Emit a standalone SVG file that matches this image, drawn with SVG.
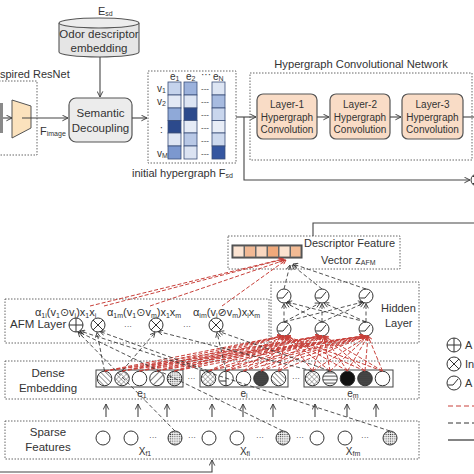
<svg xmlns="http://www.w3.org/2000/svg" width="474" height="474" viewBox="0 0 474 474">
<style>
text{font-family:"Liberation Sans","DejaVu Sans",sans-serif;fill:#333;}
.t11{font-size:11px;}
.t10{font-size:10px;}
.sub{font-size:7px;}
.dot{fill:none;stroke:#555;stroke-width:0.9;stroke-dasharray:1.5 1.5;}
.box{stroke:#555;stroke-width:1.2;}
.ln{fill:none;stroke:#444;stroke-width:1.1;}
.arr{marker-end:url(#ah);}
.red line{stroke:#c8403a;stroke-width:1;stroke-dasharray:4 2;marker-end:url(#ahr);}
.blk line{stroke:#333;stroke-width:0.85;stroke-dasharray:4 2.5;marker-end:url(#ahb);}
.cir{fill:#fff;stroke:#333;stroke-width:1;}
.sym{stroke:#333;stroke-width:1;fill:none;}
</style>
<defs>
<marker id="ah" viewBox="0 0 10 10" refX="9" refY="5" markerWidth="7" markerHeight="7" markerUnits="userSpaceOnUse" orient="auto"><path d="M1,1 L9,5 L1,9" fill="none" stroke="#444" stroke-width="1.4"/></marker>
<marker id="ahb" viewBox="0 0 10 10" refX="9" refY="5" markerWidth="6" markerHeight="6" markerUnits="userSpaceOnUse" orient="auto"><path d="M1,1 L9,5 L1,9" fill="none" stroke="#333" stroke-width="1.4"/></marker>
<marker id="ahr" viewBox="0 0 10 10" refX="9" refY="5" markerWidth="5.5" markerHeight="5.5" markerUnits="userSpaceOnUse" orient="auto"><path d="M1,1 L9,5 L1,9" fill="none" stroke="#c8403a" stroke-width="1.8"/></marker>
<pattern id="pdiag" width="3.5" height="3.5" patternUnits="userSpaceOnUse" patternTransform="rotate(-45)"><rect width="3.5" height="3.5" fill="#fff"/><line x1="0" y1="0" x2="0" y2="3.5" stroke="#333" stroke-width="1"/></pattern>
<pattern id="pdiag2" width="5" height="5" patternUnits="userSpaceOnUse" patternTransform="rotate(45)"><rect width="5" height="5" fill="#fff"/><line x1="0" y1="0" x2="0" y2="5" stroke="#333" stroke-width="1.2"/></pattern>
<pattern id="pcross" width="3.5" height="3.5" patternUnits="userSpaceOnUse" patternTransform="rotate(45)"><rect width="3.5" height="3.5" fill="#fff"/><path d="M0,0 V3.5 M0,0 H3.5" stroke="#444" stroke-width="0.7"/></pattern>
<pattern id="pdots" width="2.2" height="2.2" patternUnits="userSpaceOnUse"><rect width="2.2" height="2.2" fill="#eee"/><circle cx="1.1" cy="1.1" r="0.6" fill="#333"/></pattern>
<pattern id="pdark" width="2" height="2" patternUnits="userSpaceOnUse"><rect width="2" height="2" fill="#333"/><circle cx="1" cy="1" r="0.45" fill="#bbb"/></pattern>
<pattern id="phl" width="4" height="3.5" patternUnits="userSpaceOnUse"><rect width="4" height="3.5" fill="#fff"/><line x1="0" y1="1.75" x2="4" y2="1.75" stroke="#333" stroke-width="0.9"/></pattern>
</defs>
<rect width="474" height="474" fill="#fff"/>

<!-- ================= TOP ================= -->
<g id="resnet">
<rect x="0" y="103" width="3" height="30" fill="#8a8a8a"/>
<rect x="-10" y="81" width="47" height="74" class="dot"/>
<text x="0" y="78" class="t11">spired ResNet</text>
<polygon points="12,100 31,106 31,128 12,138" fill="#fbe2bd" stroke="#555" stroke-width="1"/>
<text x="40" y="135" class="t11">F<tspan class="sub" dy="1">image</tspan></text>
</g>
<g id="odor">
<text x="98" y="15" class="t11">E<tspan class="sub" dy="1">sd</tspan></text>
<path d="M59,23 V52 A40,5 0 0 0 139,52 V23" fill="#e5e5e5" stroke="#555" stroke-width="1.1"/>
<ellipse cx="99" cy="23" rx="40" ry="5" fill="#ededed" stroke="#555" stroke-width="1.1"/>
<text x="99" y="38" font-size="11.5" text-anchor="middle">Odor descriptor</text>
<text x="99" y="52" font-size="11.5" text-anchor="middle">embedding</text>
</g>
<g id="semantic">
<rect x="69" y="98" width="63" height="44" rx="7" fill="#ececec" class="box"/>
<text x="100.5" y="117" font-size="11.5" text-anchor="middle">Semantic</text>
<text x="100.5" y="132" font-size="11.5" text-anchor="middle">Decoupling</text>
</g>
<g id="hypergraph">
<rect x="148" y="71" width="88" height="92" class="dot"/>
<text x="170" y="80" class="t10">e<tspan class="sub" dy="1">1</tspan></text>
<text x="186" y="80" class="t10">e<tspan class="sub" dy="1">2</tspan></text>
<text x="201" y="78" class="t10">···</text>
<text x="213" y="80" class="t10">e<tspan class="sub" dy="1">N</tspan></text>
<text x="157" y="92" class="t10">v<tspan class="sub" dy="1">1</tspan></text>
<text x="157" y="105" class="t10">v<tspan class="sub" dy="1">2</tspan></text>
<text x="160" y="133" class="t10">:</text>
<text x="157" y="157" class="t10">v<tspan class="sub" dy="1">M</tspan></text>
<g stroke="#3a4e78" stroke-width="0.8">
<rect x="168" y="82" width="13" height="13" fill="#c5d3ec"/>
<rect x="168" y="95" width="13" height="13" fill="#e3e9f5"/>
<rect x="168" y="108" width="13" height="12.5" fill="#8fa9d8"/>
<rect x="168" y="120.5" width="13" height="12.5" fill="#2c4a8c"/>
<rect x="168" y="133" width="13" height="13" fill="#dfe6f3"/>
<rect x="168" y="146" width="13" height="13" fill="#7c98cf"/>
<rect x="184" y="82" width="13" height="13" fill="#9cb2dc"/>
<rect x="184" y="95" width="13" height="13" fill="#dde5f3"/>
<rect x="184" y="108" width="13" height="12.5" fill="#2c4a8c"/>
<rect x="184" y="120.5" width="13" height="12.5" fill="#e5ebf6"/>
<rect x="184" y="133" width="13" height="13" fill="#b8c8e6"/>
<rect x="184" y="146" width="13" height="13" fill="#dbe3f2"/>
<rect x="212" y="82" width="13" height="13" fill="#dde5f3"/>
<rect x="212" y="95" width="13" height="13" fill="#a7bbe0"/>
<rect x="212" y="108" width="13" height="12.5" fill="#c9d6ed"/>
<rect x="212" y="120.5" width="13" height="12.5" fill="#e8edf7"/>
<rect x="212" y="133" width="13" height="13" fill="#cdd9ee"/>
<rect x="212" y="146" width="13" height="13" fill="#3556a0"/>
</g>
<g font-size="8">
<text x="201" y="91">---</text>
<text x="201" y="104">---</text>
<text x="201" y="117">---</text>
<text x="201" y="130">---</text>
<text x="201" y="143">---</text>
<text x="201" y="156">---</text>
</g>
<text x="132" y="177" class="t11">initial hypergraph F<tspan class="sub" dy="1">sd</tspan></text>
</g>
<g id="hgcn">
<text x="361" y="68" font-size="11.2" text-anchor="middle">Hypergraph Convolutional Network</text>
<rect x="250" y="73" width="222" height="87" class="dot"/>
</g>
<g id="layer1">
<rect x="257" y="94" width="60" height="45" rx="6" fill="#f9dcc6" class="box"/>
<text x="287" y="108" class="t10" text-anchor="middle">Layer-1</text>
<text x="287" y="121" class="t10" text-anchor="middle">Hypergraph</text>
<text x="287" y="133" class="t10" text-anchor="middle">Convolution</text>
</g>
<g id="layer2">
<rect x="330" y="94" width="60" height="45" rx="6" fill="#f9dcc6" class="box"/>
<text x="360" y="108" class="t10" text-anchor="middle">Layer-2</text>
<text x="360" y="121" class="t10" text-anchor="middle">Hypergraph</text>
<text x="360" y="133" class="t10" text-anchor="middle">Convolution</text>
</g>
<g id="layer3">
<rect x="402" y="94" width="61" height="45" rx="6" fill="#f9dcc6" class="box"/>
<text x="432.5" y="108" class="t10" text-anchor="middle">Layer-3</text>
<text x="432.5" y="121" class="t10" text-anchor="middle">Hypergraph</text>
<text x="432.5" y="133" class="t10" text-anchor="middle">Convolution</text>
</g>
<g id="fuse-top">
<circle cx="477" cy="180" r="6" class="cir"/>
<path d="M472.8,175.8 L481.2,184.2 M472.8,184.2 L481.2,175.8" class="sym"/>
</g>

<!-- ================= BOTTOM ================= -->
<g id="descriptor-vector">
<rect x="228" y="236" width="172" height="33" class="dot"/>
<rect x="232" y="245" width="70" height="13" fill="#666" stroke="#444"/>
<rect x="233.5" y="246.5" width="10" height="10" fill="#fce4d2"/>
<rect x="245" y="246.5" width="10" height="10" fill="#f2b994"/>
<rect x="256.5" y="246.5" width="10" height="10" fill="#fad7bf"/>
<rect x="268" y="246.5" width="10" height="10" fill="#f0a97b"/>
<rect x="279.5" y="246.5" width="10" height="10" fill="#fbe3d0"/>
<rect x="291" y="246.5" width="9.5" height="10" fill="#f3bb94"/>
<text x="304" y="247" class="t11">Descriptor Feature</text>
<text x="321" y="264" class="t11">Vector z<tspan class="sub" dy="1">AFM</tspan></text>
</g>
<g id="hidden-layer">
<rect x="271" y="282" width="148" height="61" class="dot"/>
<text x="381" y="312" class="t11">Hidden</text>
<text x="385" y="327" class="t11">Layer</text>
<g id="neurons">
<circle cx="284" cy="296" r="7" class="cir"/><path d="M278,298 H283 L288,292" class="sym"/>
<circle cx="322" cy="296" r="7" class="cir"/><path d="M316,298 H321 L326,292" class="sym"/>
<circle cx="366" cy="296" r="7" class="cir"/><path d="M360,298 H365 L370,292" class="sym"/>
<circle cx="284" cy="329" r="7" class="cir"/><path d="M278,331 H283 L288,325" class="sym"/>
<circle cx="322" cy="329" r="7" class="cir"/><path d="M316,331 H321 L326,325" class="sym"/>
<circle cx="366" cy="329" r="7" class="cir"/><path d="M360,331 H365 L370,325" class="sym"/>
</g>
</g>
<g id="afm-layer">
<rect x="5" y="299" width="264" height="44" class="dot"/>
<text x="10" y="328" font-size="11.5">AFM Layer</text>
<text x="35" y="316" font-size="11">α<tspan class="sub" dy="1.5">1i</tspan><tspan dy="-1.5">(v</tspan><tspan class="sub" dy="1.5">1</tspan><tspan dy="-1.5">⊙v</tspan><tspan class="sub" dy="1.5">i</tspan><tspan dy="-1.5">)x</tspan><tspan class="sub" dy="1.5">1</tspan><tspan dy="-1.5">x</tspan><tspan class="sub" dy="1.5">i</tspan></text>
<text x="107" y="316" font-size="11">α<tspan class="sub" dy="1.5">1m</tspan><tspan dy="-1.5">(v</tspan><tspan class="sub" dy="1.5">1</tspan><tspan dy="-1.5">⊙v</tspan><tspan class="sub" dy="1.5">m</tspan><tspan dy="-1.5">)x</tspan><tspan class="sub" dy="1.5">1</tspan><tspan dy="-1.5">x</tspan><tspan class="sub" dy="1.5">m</tspan></text>
<text x="193" y="316" font-size="11">α<tspan class="sub" dy="1.5">im</tspan><tspan dy="-1.5">(v</tspan><tspan class="sub" dy="1.5">i</tspan><tspan dy="-1.5">⊘v</tspan><tspan class="sub" dy="1.5">m</tspan><tspan dy="-1.5">)x</tspan><tspan class="sub" dy="1.5">i</tspan><tspan dy="-1.5">x</tspan><tspan class="sub" dy="1.5">m</tspan></text>
<circle cx="76" cy="325" r="7" class="cir"/><path d="M69,325 H83 M76,318 V332" class="sym"/>
<circle cx="98" cy="325" r="7" class="cir"/><path d="M93,320 L103,330 M93,330 L103,320" class="sym"/>
<text x="128" y="329" text-anchor="middle" font-size="8">···</text>
<circle cx="156" cy="325" r="7" class="cir"/><path d="M151,320 L161,330 M151,330 L161,320" class="sym"/>
<text x="187" y="329" text-anchor="middle" font-size="8">···</text>
<circle cx="216" cy="325" r="7" class="cir"/><path d="M211,320 L221,330 M211,330 L221,320" class="sym"/>
</g>
<g id="dense-embedding">
<rect x="5" y="361" width="414" height="38" class="dot"/>
<text x="48" y="377" font-size="11.5" text-anchor="middle">Dense</text>
<text x="48" y="392" font-size="11.5" text-anchor="middle">Embedding</text>
<rect x="96" y="370" width="87" height="17" fill="none" stroke="#444"/>
<rect x="200" y="370" width="88" height="17" fill="none" stroke="#444"/>
<rect x="304" y="370" width="89" height="17" fill="none" stroke="#444"/>
<circle cx="104.5" cy="378.5" r="7.3" fill="url(#pdiag)" stroke="#333"/>
<circle cx="122" cy="378.5" r="7.3" fill="url(#pcross)" stroke="#333"/>
<circle cx="139.5" cy="378.5" r="7.3" class="cir"/>
<circle cx="157" cy="378.5" r="7.3" fill="url(#pdiag2)" stroke="#333"/>
<circle cx="174.5" cy="378.5" r="7.3" fill="url(#pdots)" stroke="#333"/>
<text x="191.5" y="381" font-size="8" text-anchor="middle">···</text>
<circle cx="208.5" cy="378.5" r="7.3" fill="url(#pcross)" stroke="#333"/>
<circle cx="226" cy="378.5" r="7.3" class="cir"/><path d="M226,371.2 V385.8 M220,381 H226" class="sym"/>
<circle cx="243.5" cy="378.5" r="7.3" class="cir"/>
<circle cx="261" cy="378.5" r="7.3" fill="url(#pdark)" stroke="#333"/>
<circle cx="278.5" cy="378.5" r="7.3" fill="url(#pdiag)" stroke="#333"/>
<text x="296" y="381" font-size="8" text-anchor="middle">···</text>
<circle cx="312.5" cy="378.5" r="7.3" fill="url(#pcross)" stroke="#333"/>
<circle cx="330" cy="378.5" r="7.3" fill="url(#phl)" stroke="#333"/>
<circle cx="347.5" cy="378.5" r="7.3" fill="#111" stroke="#333"/>
<circle cx="365" cy="378.5" r="7.3" fill="url(#pdark)" stroke="#333"/>
<circle cx="382.5" cy="378.5" r="7.3" class="cir"/>
<text x="142" y="397" class="t10" text-anchor="middle">e<tspan class="sub" dy="1">1</tspan></text>
<text x="244" y="397" class="t10" text-anchor="middle">e<tspan class="sub" dy="1">i</tspan></text>
<text x="353" y="397" class="t10" text-anchor="middle">e<tspan class="sub" dy="1">m</tspan></text>
</g>
<g id="sparse-features">
<rect x="5" y="421" width="414" height="38" class="dot"/>
<text x="48" y="436" font-size="11.5" text-anchor="middle">Sparse</text>
<text x="48" y="451" font-size="11.5" text-anchor="middle">Features</text>
<circle cx="103" cy="438" r="7" class="cir"/>
<circle cx="131" cy="438" r="7" class="cir"/>
<text x="153" y="440" font-size="8" text-anchor="middle">···</text>
<circle cx="175" cy="438" r="7" fill="url(#pdots)" stroke="#333"/>
<text x="192" y="440" font-size="8" text-anchor="middle">···</text>
<circle cx="209" cy="438" r="7" class="cir"/>
<circle cx="237" cy="438" r="7" class="cir"/>
<text x="260" y="440" font-size="8" text-anchor="middle">···</text>
<circle cx="283" cy="438" r="7" fill="url(#pdots)" stroke="#333"/>
<text x="300" y="440" font-size="8" text-anchor="middle">···</text>
<circle cx="317" cy="438" r="7" class="cir"/>
<circle cx="345" cy="438" r="7" class="cir"/>
<text x="365" y="440" font-size="8" text-anchor="middle">···</text>
<circle cx="390" cy="438" r="7" fill="url(#pdots)" stroke="#333"/>
<text x="145" y="455" class="t10" text-anchor="middle">X<tspan class="sub" dy="1">f1</tspan></text>
<text x="245" y="455" class="t10" text-anchor="middle">X<tspan class="sub" dy="1">fi</tspan></text>
<text x="353" y="455" class="t10" text-anchor="middle">X<tspan class="sub" dy="1">fm</tspan></text>
</g>
<g id="legend">
<circle cx="454" cy="345" r="7" class="cir"/><path d="M447,345 H461 M454,338 V352" class="sym"/>
<text x="465" y="349" class="t11">A</text>
<circle cx="454" cy="364" r="7" class="cir"/><path d="M449,359 L459,369 M449,369 L459,359" class="sym"/>
<text x="465" y="368" class="t11">In</text>
<circle cx="454" cy="383" r="7" class="cir"/><path d="M448,385 H453 L458,379" class="sym"/>
<text x="465" y="387" class="t11">A</text>
<line x1="448" y1="406" x2="474" y2="406" stroke="#c8403a" stroke-width="1" stroke-dasharray="5 3"/>
<line x1="448" y1="423" x2="474" y2="423" stroke="#333" stroke-width="1" stroke-dasharray="5 3"/>
<line x1="448" y1="440" x2="474" y2="440" stroke="#333" stroke-width="1.2"/>
</g>

<!-- ================= CONNECTORS ================= -->
<g id="connectors">
<g class="ln">
<path d="M3,118 H12" class="arr"/>
<path d="M22,118 H68" class="arr"/>
<path d="M100,57 V97" class="arr"/>
<path d="M132,118 H147" class="arr"/>
<path d="M236,117 H256" class="arr"/>
<path d="M317,117 H329" class="arr"/>
<path d="M390,117 H401" class="arr"/>
<path d="M463,117 H474"/>
<path d="M244,117 V180 H470" class="arr"/>
<path d="M313,236 V223 H474"/>
<path d="M0,472 H212 V460" class="arr"/>
<path d="M106,417 V404" class="arr"/>
<path d="M138,417 V404" class="arr"/>
<path d="M167,417 V404" class="arr"/>
<path d="M212,417 V404" class="arr"/>
<path d="M243,417 V404" class="arr"/>
<path d="M273,417 V404" class="arr"/>
<path d="M315,417 V404" class="arr"/>
<path d="M347,417 V404" class="arr"/>
<path d="M376,417 V404" class="arr"/>
</g>
<g class="red">
<line x1="104.5" y1="371" x2="282" y2="336"/><line x1="104.5" y1="371" x2="320" y2="336"/><line x1="104.5" y1="371" x2="364" y2="336"/>
<line x1="122" y1="371" x2="282" y2="336"/><line x1="122" y1="371" x2="320" y2="336"/><line x1="122" y1="371" x2="364" y2="336"/>
<line x1="139.5" y1="371" x2="282" y2="336"/><line x1="139.5" y1="371" x2="320" y2="336"/><line x1="139.5" y1="371" x2="364" y2="336"/>
<line x1="157" y1="371" x2="282" y2="336"/><line x1="157" y1="371" x2="320" y2="336"/><line x1="157" y1="371" x2="364" y2="336"/>
<line x1="174.5" y1="371" x2="282" y2="336"/><line x1="174.5" y1="371" x2="320" y2="336"/><line x1="174.5" y1="371" x2="364" y2="336"/>
<line x1="208.5" y1="371" x2="284" y2="336"/><line x1="208.5" y1="371" x2="322" y2="336"/><line x1="208.5" y1="371" x2="366" y2="336"/>
<line x1="226" y1="371" x2="284" y2="336"/><line x1="226" y1="371" x2="322" y2="336"/><line x1="226" y1="371" x2="366" y2="336"/>
<line x1="243.5" y1="371" x2="284" y2="336"/><line x1="243.5" y1="371" x2="322" y2="336"/><line x1="243.5" y1="371" x2="366" y2="336"/>
<line x1="261" y1="371" x2="286" y2="336"/><line x1="261" y1="371" x2="322" y2="336"/><line x1="261" y1="371" x2="366" y2="336"/>
<line x1="278.5" y1="371" x2="286" y2="336"/><line x1="278.5" y1="371" x2="322" y2="336"/><line x1="278.5" y1="371" x2="366" y2="336"/>
<line x1="312.5" y1="371" x2="286" y2="336"/><line x1="312.5" y1="371" x2="324" y2="336"/><line x1="312.5" y1="371" x2="368" y2="336"/>
<line x1="330" y1="371" x2="286" y2="336"/><line x1="330" y1="371" x2="324" y2="336"/><line x1="330" y1="371" x2="368" y2="336"/>
<line x1="347.5" y1="371" x2="286" y2="336"/><line x1="347.5" y1="371" x2="324" y2="336"/><line x1="347.5" y1="371" x2="368" y2="336"/>
<line x1="365" y1="371" x2="286" y2="336"/><line x1="365" y1="371" x2="324" y2="336"/><line x1="365" y1="371" x2="368" y2="336"/>
<line x1="382.5" y1="371" x2="286" y2="336"/><line x1="382.5" y1="371" x2="324" y2="336"/><line x1="382.5" y1="371" x2="368" y2="336"/>
<line x1="90" y1="306" x2="283" y2="259"/>
<line x1="104" y1="306" x2="284" y2="259"/>
<line x1="150" y1="306" x2="285" y2="260"/>
<line x1="222" y1="306" x2="286" y2="260"/>
</g>
<g class="blk">
<line x1="284" y1="322" x2="284" y2="303.5"/><line x1="284" y1="322" x2="320" y2="303"/><line x1="284" y1="322" x2="363" y2="302"/>
<line x1="322" y1="322" x2="286" y2="303"/><line x1="322" y1="322" x2="322" y2="303.5"/><line x1="322" y1="322" x2="364" y2="303"/>
<line x1="366" y1="322" x2="287" y2="302"/><line x1="366" y1="322" x2="324" y2="303"/><line x1="366" y1="322" x2="366" y2="303.5"/>
<line x1="284" y1="289" x2="290" y2="265"/>
<line x1="322" y1="289" x2="292" y2="265"/>
<line x1="366" y1="289" x2="293" y2="264"/>
<line x1="175" y1="431" x2="78" y2="332"/>
<line x1="283" y1="431" x2="79" y2="332"/>
<line x1="390" y1="431" x2="80" y2="331"/>
<line x1="104.5" y1="371" x2="97" y2="332.5"/>
<line x1="208.5" y1="371" x2="100" y2="331.5"/>
<line x1="122" y1="371" x2="155" y2="332.5"/>
<line x1="312.5" y1="371" x2="158" y2="331.5"/>
<line x1="226" y1="371" x2="217" y2="332.5"/>
<line x1="330" y1="371" x2="219" y2="331.5"/>
</g>
</g>
</svg>
